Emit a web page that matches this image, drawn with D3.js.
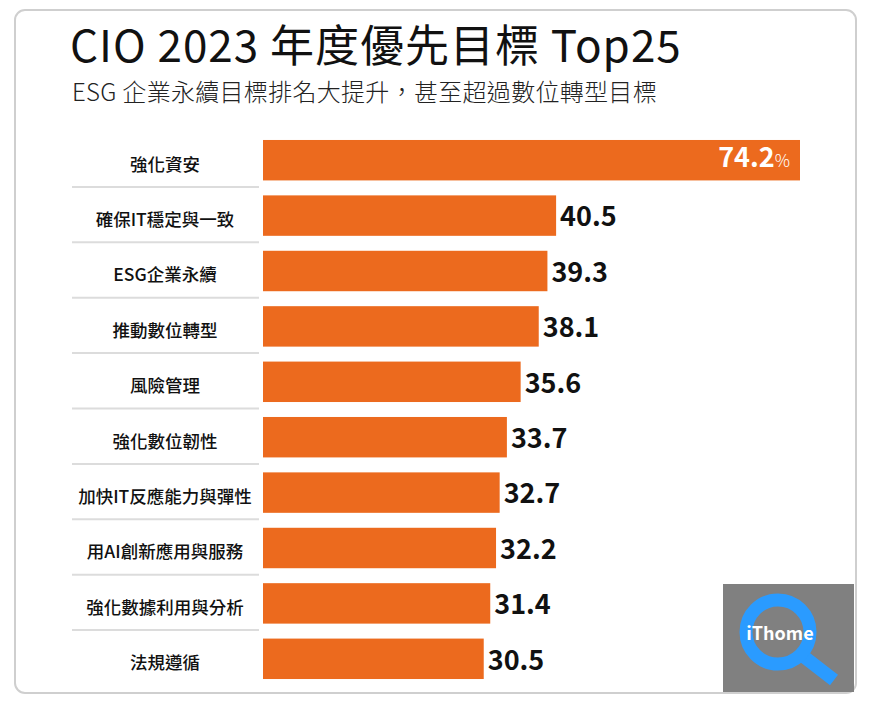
<!DOCTYPE html>
<html>
<head>
<meta charset="utf-8">
<script src="https://cdn.jsdelivr.net/npm/d3@7"></script>
<style>
  body { margin: 0; background: #fff; }
  text { font-family: "Noto Sans CJK TC", "Noto Sans", sans-serif; }
</style>
</head>
<body>
<div id="chart"></div>
<script>
// Data
const categories = [
  "強化資安", "確保IT穩定與一致", "ESG企業永續", "推動數位轉型", "風險管理",
  "強化數位韌性", "加快IT反應能力與彈性", "用AI創新應用與服務", "強化數據利用與分析", "法規遵循"
];
const values = [74.2, 40.5, 39.3, 38.1, 35.6, 33.7, 32.7, 32.2, 31.4, 30.5];
const title = "CIO 2023 年度優先目標 Top25";
const subtitle = "ESG 企業永續目標排名大提升，甚至超過數位轉型目標";

const width = 873;
const height = 703;
const margin = { top: 140, left: 263, right: 73, bottom: 23 };

const data = categories.map((c, i) => ({ name: c, value: values[i] }));

const svg = d3.select("#chart").append("svg")
  .attr("width", width)
  .attr("height", height);

// frame
svg.append("rect")
  .attr("x", 15).attr("y", 10)
  .attr("width", 841).attr("height", 683)
  .attr("rx", 10)
  .attr("fill", "#fff")
  .attr("stroke", "#cfcfcf")
  .attr("stroke-width", 2);

svg.append("text")
  .attr("x", 70).attr("y", 62)
  .attr("font-size", 44)
  .attr("font-weight", 400)
  .attr("letter-spacing", 1)
  .attr("fill", "#111")
  .text(title);

svg.append("text")
  .attr("x", 72).attr("y", 101)
  .attr("font-size", 24)
  .attr("font-weight", 300)
  .attr("letter-spacing", 0.3)
  .attr("fill", "#222")
  .text(subtitle);

const xScale = d3.scaleLinear()
  .domain([0, 74.2])
  .range([margin.left, width - margin.right]);

const yScale = d3.scaleBand()
  .domain(categories)
  .range([margin.top - 7.5, margin.top - 7.5 + 55.4 * categories.length])
  .paddingInner(0.27)
  .paddingOuter(0.135);

// separators
svg.selectAll("line.sep")
  .data(categories.slice(0, -1))
  .enter()
  .append("line")
  .attr("class", "sep")
  .attr("x1", 72).attr("x2", 259)
  .attr("y1", (d) => yScale(d) + yScale.bandwidth() + yScale.step() * yScale.paddingInner() / 2 - 1)
  .attr("y2", (d) => yScale(d) + yScale.bandwidth() + yScale.step() * yScale.paddingInner() / 2 - 1)
  .attr("stroke", "#dcdcdc")
  .attr("stroke-width", 2);

// labels
svg.selectAll("text.cat")
  .data(data)
  .enter()
  .append("text")
  .attr("class", "cat")
  .attr("x", 165)
  .attr("y", (d) => yScale(d.name) + yScale.bandwidth() / 2 + 4)
  .attr("dy", "0.36em")
  .attr("text-anchor", "middle")
  .attr("font-size", 17.5)
  .attr("font-weight", 500)
  .attr("fill", "#111")
  .text((d) => d.name);

// bars
svg.selectAll("rect.bar")
  .data(data)
  .enter()
  .append("rect")
  .attr("class", "bar")
  .attr("x", xScale(0))
  .attr("y", (d) => yScale(d.name))
  .attr("width", (d) => xScale(d.value) - xScale(0))
  .attr("height", yScale.bandwidth())
  .attr("fill", "#ec6a1e");

// values
data.forEach((d, i) => {
  const y = yScale(d.name) + yScale.bandwidth() / 2 + 1;
  if (i === 0) {
    const t = svg.append("text")
      .attr("x", xScale(d.value) - 10)
      .attr("y", y)
      .attr("dy", "0.36em")
      .attr("text-anchor", "end")
      .attr("fill", "#fff");
    t.append("tspan").attr("font-size", 27).attr("font-weight", 700).text(d.value.toFixed(1));
    t.append("tspan").attr("font-size", 17).attr("font-weight", 300).text("%");
  } else {
    svg.append("text")
      .attr("x", xScale(d.value) + 4)
      .attr("y", y)
      .attr("dy", "0.36em")
      .attr("font-size", 27)
      .attr("font-weight", 700)
      .attr("fill", "#111")
      .text(d.value.toFixed(1));
  }
});

// logo
const logo = svg.append("g");
logo.append("rect")
  .attr("x", 723).attr("y", 584)
  .attr("width", 131).attr("height", 108)
  .attr("fill", "#808080");
logo.append("line")
  .attr("x1", 803).attr("y1", 656)
  .attr("x2", 834).attr("y2", 680)
  .attr("stroke", "#2a9bff")
  .attr("stroke-width", 13);
logo.append("circle")
  .attr("cx", 778).attr("cy", 632)
  .attr("r", 32)
  .attr("fill", "none")
  .attr("stroke", "#2a9bff")
  .attr("stroke-width", 13);
logo.append("text")
  .attr("x", 780).attr("y", 640)
  .attr("text-anchor", "middle")
  .attr("font-size", 18)
  .attr("font-weight", 700)
  .attr("fill", "#fff")
  .text("iThome");
</script>
</body>
</html>
